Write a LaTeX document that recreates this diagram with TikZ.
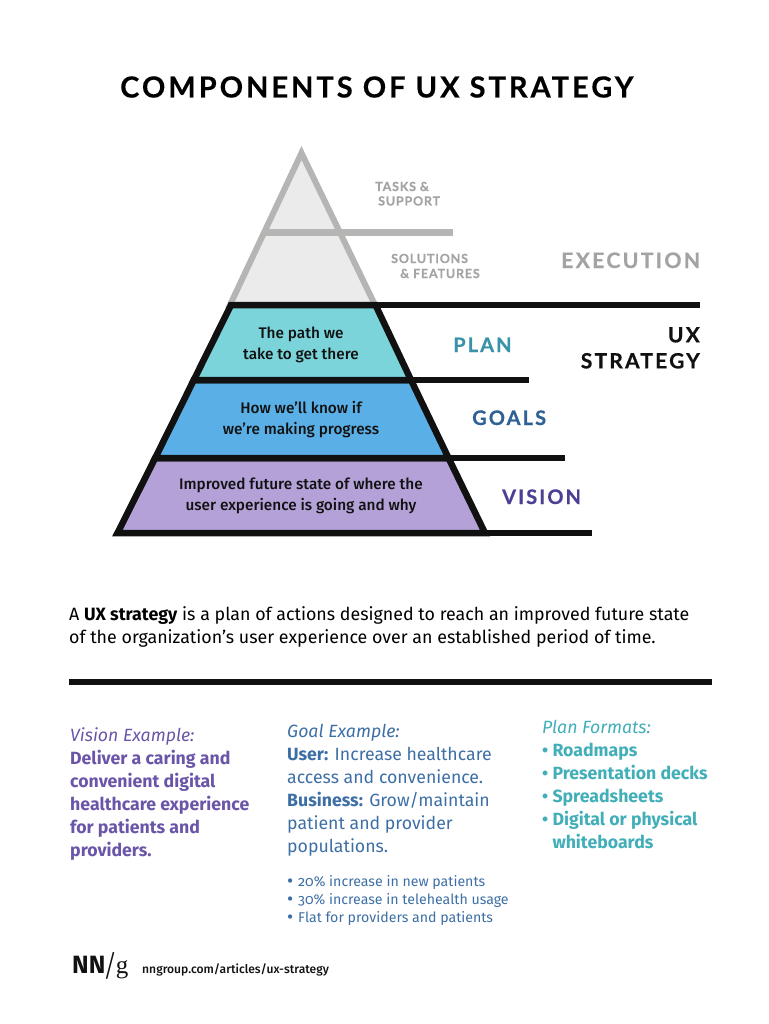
\documentclass[tikz,border=0pt]{standalone}
\usepackage{fontspec}
\setmainfont{Fira Sans}[Numbers=OldStyle]
\newfontfamily\medfont{Fira Sans Medium}
\newfontfamily\capsfont[LetterSpace=10.3,BoldFeatures={FakeBold=0.4}]{Lato}
\newfontfamily\labelfont[LetterSpace=10.5,BoldFeatures={FakeBold=0.6}]{Lato}
\newfontfamily\smallcaps[LetterSpace=6.5,BoldFeatures={FakeBold=0.4}]{Lato}
\newcommand{\listdot}{\makebox[11pt][l]{\fontsize{19}{19}\selectfont\raisebox{-1pt}{•}}}
\definecolor{grayline}{HTML}{B5B5B4}
\definecolor{grayfill}{HTML}{EBEBEB}
\definecolor{graytext}{HTML}{A3A3A3}
\definecolor{planfill}{HTML}{7AD4DA}
\definecolor{goalfill}{HTML}{5AB0E6}
\definecolor{visionfill}{HTML}{B4A1D8}
\definecolor{plantext}{HTML}{3A92A8}
\definecolor{goaltext}{HTML}{2F6196}
\definecolor{visiontext}{HTML}{4B4094}
\definecolor{listpurple}{HTML}{6A55A8}
\definecolor{listblue}{HTML}{3D6FA5}
\definecolor{listteal}{HTML}{41AEB8}
\definecolor{inkblack}{HTML}{111111}
\tikzset{
  grayrule/.style={draw=grayline,line width=6pt},
  blackrule/.style={draw=inkblack,line width=6pt},
  levelfill/.style={line width=6.5pt,draw=inkblack,line join=miter},
  inside/.style={align=center,inner sep=0pt,text=inkblack,font=\fontsize{15.35}{21}\medfont},
  tier/.style={anchor=base west,inner sep=0pt,font=\fontsize{20}{20}\labelfont\bfseries},
  grayword/.style={anchor=base west,inner sep=0pt,text=graytext,font=\fontsize{12.5}{14.5}\smallcaps\bfseries,align=center},
  para/.style={anchor=north west,inner sep=0pt,align=left,font=\fontsize{17.7}{23}\selectfont},
}
\begin{document}
\begin{tikzpicture}[x=1pt,y=-1pt]
\useasboundingbox (0,0) rectangle (768,1024);
\node[anchor=base west,inner sep=0pt] (title) at (120,97.5) {\fontsize{29}{29}\capsfont\bfseries COMPONENTS OF UX STRATEGY};
% gray top of the pyramid
\draw[grayrule,fill=grayfill,line join=miter] (230,305) -- (301.5,153) -- (375,305) -- cycle;
\draw[grayrule] (266,232.5) -- (453,232.5);
\node[grayword] (tasks) at (375,191) {TASKS \&};
\node[grayword] (support) at (378,205.5) {SUPPORT};
\node[grayword] (solutions) at (391,263) {SOLUTIONS};
\node[grayword] (features) at (400,278) {\& FEATURES};
\node[anchor=base west,inner sep=0pt,text=graytext] (execution) at (561,268) {\fontsize{21.3}{21}\labelfont\bfseries EXECUTION};
% three levels
\draw[levelfill,fill=visionfill] (155.2,458) -- (448.5,458) -- (485,533) -- (117.5,533) -- cycle;
\draw[levelfill,fill=goalfill] (193.8,380) -- (411,380) -- (448.5,458) -- (155.2,458) -- cycle;
\draw[levelfill,fill=planfill] (231,305) -- (375.5,305) -- (411,380) -- (193.8,380) -- cycle;
\draw[blackrule] (375.5,305) -- (700,305);
\draw[blackrule] (411,380) -- (529,380);
\draw[blackrule] (448.5,458) -- (565,458);
\draw[blackrule] (485,533) -- (592,533);
\node[inside] (plantext) at (301,345) {The path we\\take to get there};
\node[inside] (goaltext) at (301,420) {How we’ll know if\\we’re making progress};
\node[inside] (visiontext) at (301,496) {Improved future state of where the\\user experience is going and why};
\node[tier,text=plantext] (planword) at (453,352) {PLAN};
\node[tier,text=goaltext] (goalword) at (472,425) {GOALS};
\node[tier,text=visiontext] (visionword) at (502,504) {VISION};
\node[anchor=north east,inner sep=0pt,align=right,text=inkblack,font=\fontsize{21}{26}\labelfont\bfseries] (uxstrategy) at (700,327) {UX\\STRATEGY};
% text under the pyramid
\node[para,font=\fontsize{17.82}{23}\selectfont] (definition) at (69,606) {A \textbf{UX strategy} is a plan of actions designed to reach an improved future state\\of the organization’s user experience over an established period of time.};
\draw[draw=inkblack,line width=6.5pt] (69,682) -- (712,682);
\node[para,text=listpurple] (visioncol) at (70,727) {\textit{Vision Example:}\\\textbf{Deliver a caring and}\\\textbf{convenient digital}\\\textbf{healthcare experience}\\\textbf{for patients and}\\\textbf{providers.}};
\node[para,text=listblue] (goalcol) at (287,724) {\textit{Goal Example:}\\\textbf{User:} Increase healthcare\\access and convenience.\\\textbf{Business:} Grow/maintain\\patient and provider\\populations.};
\node[para,text=listblue,font=\fontsize{14.15}{18}\selectfont] (goallist) at (287,875) {\listdot 20\% increase in new patients\\\listdot 30\% increase in telehealth usage\\\listdot Flat for providers and patients};
\node[para,text=listteal] (plancol) at (542,720) {\textit{Plan Formats:}\\\textbf{• Roadmaps}\\\textbf{• Presentation decks}\\\textbf{• Spreadsheets}\\\textbf{• Digital or physical}\\\textbf{\phantom{• }whiteboards}};
% logo
\node[anchor=base west,inner sep=0pt,text=inkblack] (logo) at (72,973) {\fontsize{25}{25}\selectfont\bfseries NN\hspace{-3pt}{\fontsize{30}{30}\mdseries\fontspec{Fira Sans Light}\raisebox{-3pt}{/}}\hspace{-2pt}{\fontsize{25}{25}\mdseries\fontspec{Liberation Serif}g}};
\node[anchor=base west,inner sep=0pt,text=inkblack,font=\fontsize{12.1}{14}\medfont] (url) at (142,973) {nngroup.com/articles/ux-strategy};
\end{tikzpicture}
\end{document}
